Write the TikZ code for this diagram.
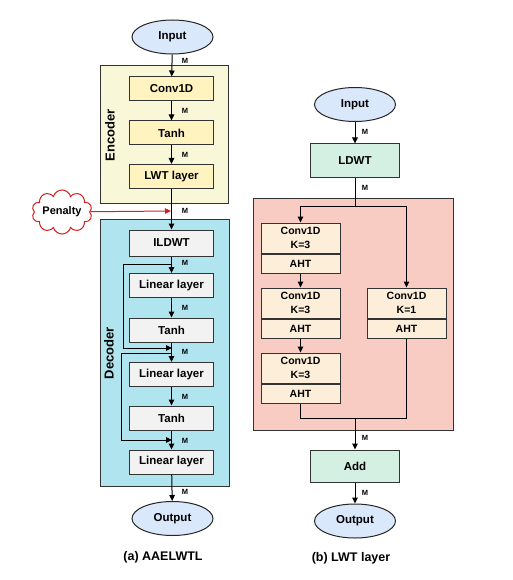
\documentclass[tikz,border=0pt]{standalone}
\usepackage{fontspec}
\setmainfont{Liberation Sans}
\usetikzlibrary{shapes.geometric,shapes.symbols,arrows.meta,positioning}
\definecolor{iofill}{HTML}{DAE8FC}
\definecolor{encout}{HTML}{F8F8D8}
\definecolor{encin}{HTML}{FFF4C0}
\definecolor{decout}{HTML}{B0E4EE}
\definecolor{decin}{HTML}{F2F2F2}
\definecolor{wavefill}{HTML}{D4F0E2}
\definecolor{lwtout}{HTML}{F8CCC2}
\definecolor{convin}{HTML}{FDEEDA}
\definecolor{penred}{HTML}{D42020}

\begin{document}
\begin{tikzpicture}[x=1pt,y=-1pt,
    >={Triangle[length=6pt,width=5.5pt]},
    boxfont/.style={font=\bfseries\fontsize{11.5}{13}\selectfont},
    io/.style={ellipse,draw=black!85,line width=1pt,fill=iofill,minimum width=81pt,minimum height=34pt,inner sep=0pt,boxfont},
    blk/.style={draw=black!80,line width=1pt,minimum width=84pt,minimum height=24pt,inner sep=1pt,boxfont},
    encblk/.style={blk,fill=encin},
    decblk/.style={blk,fill=decin},
    waveblk/.style={blk,fill=wavefill,minimum width=89pt,minimum height=33pt},
    convtop/.style={draw=black!80,line width=1pt,fill=convin,minimum width=79pt,minimum height=30pt,inner sep=0pt,align=center,font=\bfseries\fontsize{10.5}{14}\selectfont},
    convbot/.style={convtop,minimum height=19pt},
    group/.style={draw=black!80,line width=1pt,inner sep=0pt},
    mlab/.style={font=\bfseries\fontsize{7.5}{8}\selectfont,inner sep=0pt},
    wire/.style={draw=black,line width=1pt},
    side/.style={font=\bfseries\fontsize{13}{15}\selectfont,rotate=90},
    caption/.style={font=\bfseries\fontsize{12.5}{15}\selectfont}
]
\useasboundingbox (0,0) rectangle (513,580);

% (a) AAELWTL
\node[group,fill=encout,minimum width=128pt,minimum height=137pt] (encbox) at (164,134.5) {};
\node[group,fill=decout,minimum width=129pt,minimum height=267pt] (decbox) at (164.5,352.5) {};
\node[side] (enclab) at (110,135) {Encoder};
\node[side] (declab) at (109,353) {Decoder};

\node[io] (inA) at (172.5,37) {Input};
\node[encblk] (conv) at (171.5,89) {Conv1D};
\node[encblk] (tanhE) at (171.5,133) {Tanh};
\node[encblk] (lwt) at (171.5,176.5) {LWT layer};
\node[decblk,minimum height=26pt] (ildwt) at (171.5,243) {ILDWT};
\node[decblk] (lin1) at (171.5,285.5) {Linear layer};
\node[decblk] (tanh1) at (171.5,330) {Tanh};
\node[decblk] (lin2) at (171.5,374.5) {Linear layer};
\node[decblk] (tanh2) at (171.5,418) {Tanh};
\node[decblk] (lin3) at (171.5,462) {Linear layer};
\node[io] (outA) at (172.5,518.5) {Output};

\node[cloud,cloud puffs=10,aspect=1.7,draw=penred,line width=1pt,fill=white,minimum width=57pt,minimum height=36pt,inner sep=0pt,font=\bfseries\fontsize{11}{13}\selectfont] (pen) at (62,212) {Penalty};
\coordinate (penhit) at (171,211);

\draw[wire,->] (inA) -- (conv);
\draw[wire,->] (conv) -- (tanhE);
\draw[wire,->] (tanhE) -- (lwt);
\draw[wire,->] (lwt) -- (ildwt);
\draw[wire,->] (ildwt) -- (lin1);
\draw[wire,->] (lin1) -- (tanh1);
\draw[wire,->] (tanh1) -- (lin2);
\draw[wire,->] (lin2) -- (tanh2);
\draw[wire,->] (tanh2) -- (lin3);
\draw[wire,->] (lin3) -- (outA);
\draw[line width=1pt,draw=penred,->] (pen) -- (penhit);

% skip connections
\coordinate (s1) at (172,264);
\coordinate (j1) at (172,348);
\coordinate (s2) at (172,353);
\coordinate (j2) at (172,440);
\draw[wire,->] (s1) -- (123,264) |- (j1);
\draw[wire,->] (s2) -- (121,353) |- (j2);

\foreach \y [count=\i] in {61,111,155,211,263,308,352,397,441,492}
  \node[mlab] (mA\i) at (185,\y) {M};

\node[caption] (capA) at (163,557) {(a) AAELWTL};

% (b) LWT layer
\node[group,fill=lwtout,minimum width=200pt,minimum height=232pt] (lwtbox) at (353,314) {};
\node[io] (inB) at (355,104.5) {Input};
\node[waveblk] (ldwt) at (355,160.5) {LDWT};

\node[convtop] (c1) at (300.5,238) {Conv1D\\K=3};
\node[convbot,below=0pt of c1] (c1a) {AHT};
\node[convtop] (c2) at (300.5,303) {Conv1D\\K=3};
\node[convbot,below=0pt of c2] (c2a) {AHT};
\node[convtop] (c3) at (300.5,368) {Conv1D\\K=3};
\node[convbot,below=0pt of c3] (c3a) {AHT};
\node[convtop] (c4) at (406.5,303) {Conv1D\\K=1};
\node[convbot,below=0pt of c4] (c4a) {AHT};

\node[waveblk,minimum height=32pt] (add) at (355,466) {Add};
\node[io] (outB) at (355,521) {Output};

\coordinate (br) at (355,206);
\coordinate (mg) at (355,418);
\draw[wire,->] (inB) -- (ldwt);
\draw[wire] (ldwt) -- (br);
\draw[wire,->] (br) -| (c1);
\draw[wire,->] (br) -| (c4);
\draw[wire,->] (c1a) -- (c2);
\draw[wire,->] (c2a) -- (c3);
\draw[wire] (c3a) |- (mg);
\draw[wire] (c4a) |- (mg);
\draw[wire,->] (mg) -- (add);
\draw[wire,->] (add) -- (outB);

\foreach \y [count=\i] in {132,188,438,493}
  \node[mlab] (mB\i) at (365,\y) {M};

\node[caption] (capB) at (351,558) {(b) LWT layer};
\end{tikzpicture}
\end{document}
